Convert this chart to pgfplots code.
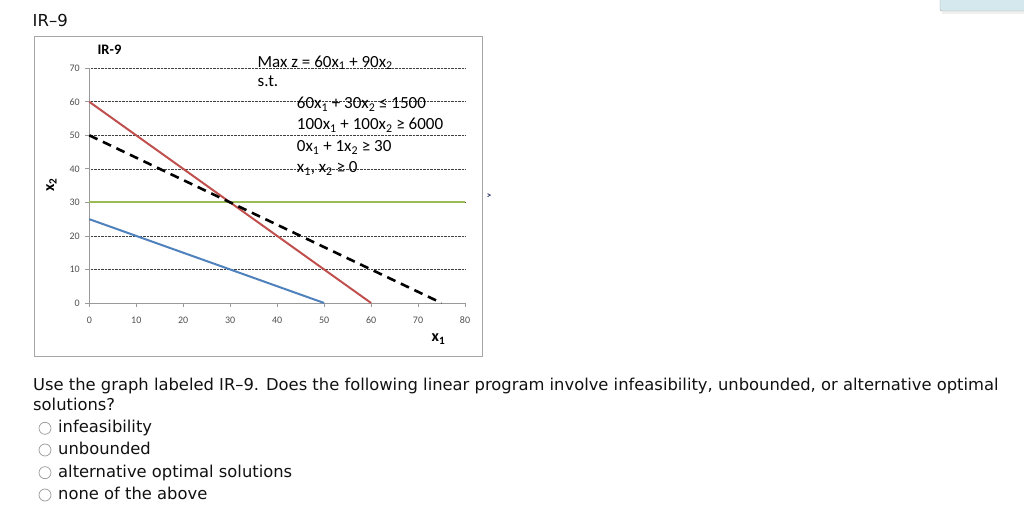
\documentclass[border=0pt]{standalone}
\usepackage{fontspec}
\setmainfont{DejaVu Sans}
\newfontfamily\calibri{Carlito}
\usepackage{pgfplots}
\pgfplotsset{compat=1.18}
\definecolor{xred}{HTML}{C0504D}
\definecolor{xblue}{HTML}{4F81BD}
\definecolor{xgreen}{HTML}{9BBB59}
\definecolor{ticktxt}{HTML}{505050}
\definecolor{qtxt}{HTML}{111111}
\begin{document}
\begin{tikzpicture}[x=1pt,y=1pt]
\path[use as bounding box] (0,0) rectangle (1024,529);
% top-right widget
\fill[black!6] (942,515) rectangle (1030,535);
\filldraw[fill={rgb,255:red,212;green,232;blue,238}, draw=black!35, rounded corners=2pt] (940,518) rectangle (1034,536);
% page title
\node[anchor=base west, inner sep=0, font=\fontsize{16.5}{19}\selectfont, text=qtxt] at (32.5,502) {IR–9};
% chart frame
\draw[black!35, line width=0.9pt] (34.5,492.5) rectangle (482,173);
\node[anchor=base, inner sep=0, font=\calibri\bfseries\fontsize{14.5}{17}\selectfont] at (109.5,474.7) {IR-9};
\begin{axis}[
  at={(89.3pt,226pt)}, anchor=south west,
  scale only axis, width=375.7pt, height=234.7pt,
  xmin=0, xmax=80, ymin=0, ymax=70,
  axis x line*=bottom, axis y line*=left,
  axis line style={black!40, line width=0.8pt, -},
  xtick={0,10,...,80}, ytick={0,10,...,70},
  tick align=outside, major tick length=4pt,
  tick style={black!40, line width=0.8pt},
  ymajorgrids, grid style={black!75, densely dotted, line width=0.7pt},
  ticklabel style={font=\calibri\fontsize{10}{12}\selectfont, text=ticktxt},
  xticklabel style={yshift=-6.5pt},
  yticklabel style={xshift=-2pt},
  /pgf/number format/assume math mode=true,
  clip=false,
]
\addplot[xblue, line width=2pt] coordinates {(0,25) (50,0)};
\addplot[xred, line width=2pt] coordinates {(0,60) (60,0)};
\addplot[xgreen, line width=2pt] coordinates {(0,30) (80,30)};
\addplot[black, line width=2.6pt, dash pattern=on 9pt off 6pt] coordinates {(0,50) (75,0)};
\end{axis}
% annotation text
\begin{scope}[every node/.style={anchor=base west, inner sep=0, font=\calibri\fontsize{17}{20}\selectfont}]
\node at (257.5,461.7) {Max z = 60x\textsubscript{1} + 90x\textsubscript{2}};
\node at (257.5,442.3) {s.t.};
\node at (296.7,420) {60x\textsubscript{1} + 30x\textsubscript{2} ≤ 1500};
\node at (296.7,399) {100x\textsubscript{1} + 100x\textsubscript{2} ≥ 6000};
\node at (296.7,377.3) {0x\textsubscript{1} + 1x\textsubscript{2} ≥ 30};
\node at (296.7,356.3) {x\textsubscript{1}, x\textsubscript{2} ≥ 0};
\end{scope}
\node[anchor=base west, inner sep=0, font=\calibri\bfseries\fontsize{16}{18}\selectfont] at (431.5,187.3) {x\textsubscript{1}};
\node[rotate=90, inner sep=0, font=\calibri\bfseries\fontsize{16}{18}\selectfont] at (51.5,344) {x\textsubscript{2}};
\node[inner sep=0, font=\calibri\bfseries\fontsize{9}{10}\selectfont, text={rgb,255:red,30;green,40;blue,90}] at (489,333) {>};
% question
\begin{scope}[every node/.style={anchor=base west, inner sep=0, font=\fontsize{16.35}{19}\selectfont, text=qtxt}]
\node at (33,138) {Use the graph labeled IR–9. Does the following linear program involve infeasibility, unbounded, or alternative optimal};
\node at (33,118) {solutions?};
\node at (58,96) {infeasibility};
\node at (58,74) {unbounded};
\node at (58,51.3) {alternative optimal solutions};
\node at (58,29) {none of the above};
\end{scope}
\foreach \yy in {100.7,79,56.3,34}{
  \draw[black!40, line width=0.7pt, fill=white] (45,\yy) circle (6pt);
}
\end{tikzpicture}
\end{document}
